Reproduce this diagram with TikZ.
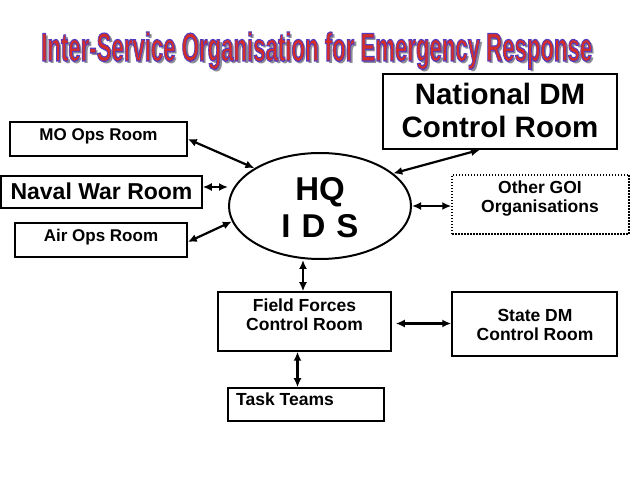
\documentclass[tikz,border=0pt]{standalone}
\usepackage{fontspec}
\setmainfont{Liberation Sans}
\usetikzlibrary{arrows.meta,shapes.geometric}
\definecolor{ttlred}{RGB}{212,44,40}
\definecolor{ttlshadow}{RGB}{140,140,150}
\newcommand\ttlraw{\resizebox{551pt}{29pt}{\bfseries Inter-Service Organisation for Emergency Response}}
\newcommand\ttltext{%
  \rlap{\raisebox{-2.5pt}{\hspace{2.5pt}\textcolor{ttlshadow}{\ttlraw}}}%
  \special{pdf:literal q}%
  \textcolor{ttlred}{\special{pdf:literal 2 Tr 0.3 w 0.32 0.24 0.76 RG}\ttlraw}%
  \special{pdf:literal Q}}
\newcommand\fs[2]{\fontsize{#1pt}{#2pt}\selectfont\bfseries}
\tikzset{
  box/.style={draw=black, line width=1.5pt, inner sep=0pt, fill=white},
  dotbox/.style={draw=black, line width=1.5pt, dash pattern=on 1.5pt off 1.5pt, inner sep=0pt},
  lbl/.style={inner sep=0pt, align=center, text=black},
  arr/.style={{Latex[length=9pt,width=8pt]}-{Latex[length=9pt,width=8pt]}, line width=2.2pt},
  ttl/.style={inner sep=0pt, anchor=base west}
}
\begin{document}
\begin{tikzpicture}[x=1pt,y=-1pt]
\useasboundingbox[fill=white] (0,0) rectangle (638,478);
% title
\node[ttl] (title) at (41,61) {\ttltext};

% boxes
\node[box, minimum width=177pt, minimum height=34pt] (mo) at (98.5,139) {};
\node[lbl, font=\fs{17}{20}] (motext) at (98.5,136) {MO Ops Room};
\node[box, minimum width=201pt, minimum height=32pt] (naval) at (101.5,192) {};
\node[lbl, font=\fs{23}{26}] (navaltext) at (101.5,191) {Naval War Room};
\node[box, minimum width=172pt, minimum height=34pt] (air) at (101,240) {};
\node[lbl, font=\fs{17}{20}] (airtext) at (101,237) {Air Ops Room};

\node[box, minimum width=234pt, minimum height=75pt] (nat) at (500,111.5) {};
\node[lbl, font=\fs{29.5}{33}] (nattext) at (500,110) {National DM\\Control Room};

\node[dotbox, minimum width=177pt, minimum height=59pt] (other) at (540.5,204.5) {};
\node[lbl, font=\fs{17.5}{19}] (othertext) at (540,199) {Other GOI\\Organisations};

\node[draw=black, line width=2pt, ellipse, minimum width=182pt, minimum height=106pt, inner sep=0pt] (hq) at (320,206) {};
\node[lbl, font=\fs{33}{37}] (hqtext) at (320,208) {HQ\\I\,\,D\,\,S};

\node[box, minimum width=173pt, minimum height=59pt] (field) at (304.5,321.5) {};
\node[lbl, font=\fs{17.5}{19}] (fieldtext) at (304.5,315) {Field Forces\\Control Room};

\node[box, minimum width=165pt, minimum height=64pt] (state) at (534.5,324) {};
\node[lbl, font=\fs{17.5}{19}] (statetext) at (535,325) {State DM\\Control Room};

\node[box, minimum width=156pt, minimum height=33pt] (task) at (306,404.5) {};
\node[lbl, font=\fs{17.5}{20}, anchor=base west] (tasktext) at (236,406) {Task Teams};

% connectors
\draw[arr] (mo.east) -- (hq.150);
\draw[arr] ([yshift=5pt]naval.east) -- ([yshift=5pt]naval.east -| hq.west);
\draw[arr] ([yshift=-2pt]air.east) -- (hq.190);
\draw[arr] ([xshift=-20pt]nat.south) -- (hq.24);
\draw[arr] (hq.east) -- (hq.east -| other.west);
\draw[arr] ([xshift=-1.5pt]field.north) -- ([xshift=-1.5pt]field.north |- hq.south);
\draw[arr] ([xshift=4pt,yshift=-2pt]field.east) -- ([yshift=-2pt]field.east -| state.west);
\draw[arr] ([xshift=-7pt]field.south) -- ([xshift=-7pt]field.south |- task.north);
\end{tikzpicture}
\end{document}
